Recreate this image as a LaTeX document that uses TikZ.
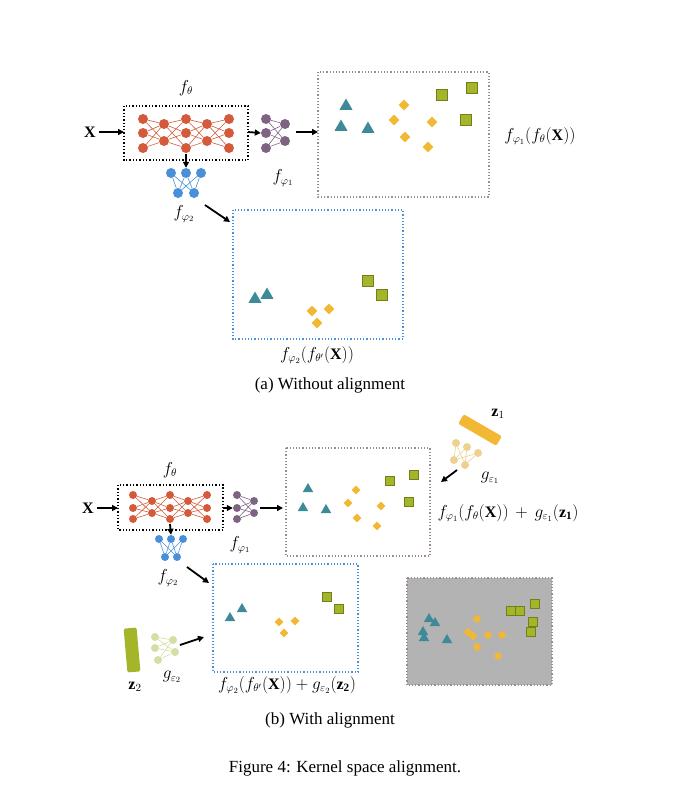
\documentclass[tikz,border=0pt]{standalone}
\usepackage{fontspec}
\setmainfont{Liberation Serif}
\usetikzlibrary{shapes.geometric,backgrounds,arrows.meta}
\definecolor{cRed}{HTML}{D35A3A}
\definecolor{cPur}{HTML}{7E6482}
\definecolor{cBlu}{HTML}{4A90D9}
\definecolor{cTeal}{HTML}{3E8A99}
\definecolor{cYel}{HTML}{F2B833}
\definecolor{cGrn}{HTML}{A5B52A}
\definecolor{cLY}{HTML}{EDD18F}
\definecolor{cLG}{HTML}{D6DDA5}
\definecolor{cBox}{HTML}{9A8A9A}
\newcommand\conn[5]{\begin{scope}[on background layer]\foreach \i in {1,...,#3}{\foreach \j in {1,...,#4}{\draw[#5,line width=0.6pt] (#1\i) -- (#2\j);}}\end{scope}}
\begin{document}
\begin{tikzpicture}[x=1pt,y=-1pt,
  nd/.style={circle,inner sep=0pt,minimum size=#1},
  nd/.default=10pt,
  arr/.style={-{Triangle[length=6pt,width=6pt]},line width=1.8pt},
  tri/.style={regular polygon,regular polygon sides=3,fill=cTeal,inner sep=0pt,minimum size=15pt},
  tris/.style={tri,minimum size=12pt},
  dia/.style={diamond,fill=cYel,inner sep=0pt,minimum size=11pt},
  dias/.style={dia,minimum size=9pt},
  sq/.style={rectangle,fill=cGrn,draw=cGrn!70!black,line width=0.5pt,inner sep=0pt,minimum size=11pt},
  sqs/.style={sq,minimum size=9pt},
  lbl/.style={font=\fontsize{16}{18}\selectfont},
  captxt/.style={font=\fontsize{17}{20}\selectfont}]
\useasboundingbox (0,0) rectangle (690,806);
% ===== (a) =====
\node[lbl] (xa) at (90,132) {$\mathbf{X}$};
\draw[dotted,line width=1.3pt] (124,106) rectangle (248,160);
\coordinate (fa) at (124,132); \coordinate (fb) at (248,132);
\node[lbl] at (186,88) {$f_\theta$};
\foreach \c/\x in {1/143,3/186,5/229}{\foreach \r/\y in {1/119,2/133,3/148}{\node[nd,fill=cRed] (a\c\r) at (\x,\y){};}}
\foreach \c/\x in {2/164,4/207}{\foreach \r/\y in {1/124,2/141}{\node[nd,fill=cRed] (a\c\r) at (\x,\y){};}}
\conn{a1}{a2}{3}{2}{cRed}\conn{a2}{a3}{2}{3}{cRed}\conn{a3}{a4}{3}{2}{cRed}\conn{a4}{a5}{2}{3}{cRed}
\foreach \r/\y in {1/119,2/133,3/148}{\node[nd,fill=cPur] (pa1\r) at (266,\y){};}
\foreach \r/\y in {1/124,2/141}{\node[nd,fill=cPur] (pa2\r) at (285,\y){};}
\conn{pa1}{pa2}{3}{2}{cPur}
\node[lbl] at (283,178) {$f_{\varphi_1}$};
\foreach \r/\x in {1/171,2/186,3/201}{\node[nd,fill=cBlu] (ba1\r) at (\x,173){};}
\foreach \r/\x in {1/178,2/194}{\node[nd,fill=cBlu] (ba2\r) at (\x,193){};}
\conn{ba1}{ba2}{3}{2}{cBlu}
\node[lbl] at (184,214) {$f_{\varphi_2}$};
\draw[arr] (xa.east) -- (fa);
\draw[arr] (fb) -- (pa12.west);
\draw[arr] (a33.center) ++(0,6) -- (ba12.north);
\draw[dotted,line width=1.2pt,cBox] (318,72) rectangle (489,197);
\coordinate (ga) at (318,132);
\draw[arr] (pa21.east|-ga) ++(6,0) -- (ga);
\node[lbl] at (540,136) {$f_{\varphi_1}(f_\theta(\mathbf{X}))$};
\draw[dotted,line width=1.2pt,cBlu] (233,210) rectangle (403,339);
\coordinate (bb) at (230,222);
\draw[arr] (205,205) -- (bb);
\node[lbl] at (317,355) {$f_{\varphi_2}(f_{\theta'}(\mathbf{X}))$};
\foreach \p in {(346,106),(341,127),(368,129)} \node[tri] at \p {};
\foreach \p in {(404,105),(394,120),(432,122),(405,137),(428,147)} \node[dia] at \p {};
\foreach \p in {(442,95),(472,88),(466,120)} \node[sq] at \p {};
\foreach \p in {(255,299),(267,295)} \node[tri] at \p {};
\foreach \p in {(312,311),(329,309),(317,323)} \node[dia] at \p {};
\foreach \p in {(368,281),(382,295)} \node[sq] at \p {};
\node[captxt] at (330,385) {(a) Without alignment};
% ===== (b) =====
\node[lbl] (xb) at (88,508) {$\mathbf{X}$};
\draw[dotted,line width=1.3pt] (118,485) rectangle (223,530);
\coordinate (fc) at (118,508); \coordinate (fd) at (223,508);
\node[lbl] at (170,470) {$f_\theta$};
\foreach \c/\x in {1/133,3/170,5/207}{\foreach \r/\y in {1/495,2/508,3/519}{\node[nd=8pt,fill=cRed] (b\c\r) at (\x,\y){};}}
\foreach \c/\x in {2/152,4/188}{\foreach \r/\y in {1/501,2/513}{\node[nd=8pt,fill=cRed] (b\c\r) at (\x,\y){};}}
\conn{b1}{b2}{3}{2}{cRed}\conn{b2}{b3}{2}{3}{cRed}\conn{b3}{b4}{3}{2}{cRed}\conn{b4}{b5}{2}{3}{cRed}
\foreach \r/\y in {1/495,2/508,3/519}{\node[nd=8pt,fill=cPur] (pb1\r) at (237,\y){};}
\foreach \r/\y in {1/501,2/513}{\node[nd=8pt,fill=cPur] (pb2\r) at (254,\y){};}
\conn{pb1}{pb2}{3}{2}{cPur}
\node[lbl] at (240,545) {$f_{\varphi_1}$};
\foreach \r/\x in {1/159,2/171,3/183}{\node[nd=8pt,fill=cBlu] (bb1\r) at (\x,539){};}
\foreach \r/\x in {1/165,2/177}{\node[nd=8pt,fill=cBlu] (bb2\r) at (\x,557){};}
\conn{bb1}{bb2}{3}{2}{cBlu}
\node[lbl] at (168,578) {$f_{\varphi_2}$};
\draw[arr] (xb.east) -- (fc);
\draw[arr] (fd) -- (pb12.west);
\draw[arr] (b33.center) ++(0,5) -- (bb12.north);
\draw[dotted,line width=1.2pt,cBox] (286,448) rectangle (430,556);
\coordinate (gb) at (283,508);
\draw[arr] (260,508) -- (gb);
\foreach \p in {(308,489),(303,508),(326,510)} \node[tris] at \p {};
\foreach \p in {(356,490),(348,503),(381,506),(357,518),(377,526)} \node[dias] at \p {};
\foreach \p in {(390,481),(414,475),(409,502)} \node[sqs] at \p {};
\node[lbl] at (508,513) {$f_{\varphi_1}(f_\theta(\mathbf{X}))\,+\,g_{\varepsilon_1}(\mathbf{z_1})$};
% z1
\node[rectangle,rounded corners=1.5pt,fill=cYel,minimum width=44pt,minimum height=11pt,rotate=-30] (z1) at (480,430) {};
\node[lbl] at (498,414) {$\mathbf{z}_1$};
\foreach \r/\x/\y in {1/456/443,2/467/447,3/478/453}{\node[nd=8pt,fill=cLY] (ya\r) at (\x,\y){};}
\foreach \r/\x/\y in {1/454/460,2/465/465}{\node[nd=8pt,fill=cLY] (yb\r) at (\x,\y){};}
\conn{ya}{yb}{3}{2}{cLY}
\node[lbl] at (490,478) {$g_{\varepsilon_1}$};
\coordinate (g1) at (441,482);
\draw[arr] (457,470) -- (g1);
% blue box b
\draw[dotted,line width=1.2pt,cBlu] (213,564) rectangle (358,672);
\coordinate (bc) at (209,583);
\draw[arr] (187,567) -- (bc);
\foreach \p in {(230,618),(242,609)} \node[tris] at \p {};
\foreach \p in {(279,622),(295,621),(284,633)} \node[dias] at \p {};
\foreach \p in {(327,597),(339,609)} \node[sqs] at \p {};
\node[lbl] at (287,685) {$f_{\varphi_2}(f_{\theta'}(\mathbf{X}))+g_{\varepsilon_2}(\mathbf{z_2})$};
% z2
\node[rectangle,rounded corners=1.5pt,fill=cGrn,minimum width=13pt,minimum height=44pt,rotate=5] (z2) at (132,650) {};
\node[lbl] at (135,687) {$\mathbf{z}_2$};
\foreach \r/\x/\y in {1/155/637,2/155/648,3/158/660}{\node[nd=8pt,fill=cLG] (ga\r) at (\x,\y){};}
\foreach \r/\x/\y in {1/173/640,2/175/652}{\node[nd=8pt,fill=cLG] (gb\r) at (\x,\y){};}
\conn{ga}{gb}{3}{2}{cLG}
\node[lbl] at (172,677) {$g_{\varepsilon_2}$};
\coordinate (g2) at (204,637);
\draw[arr] (180,645) -- (g2);
% gray box
\draw[dotted,line width=1.2pt,cBox,fill={rgb,255:red,179;green,179;blue,179}] (407,578) rectangle (552,685);
\foreach \p in {(429,619),(435,623),(423,632),(424,638),(447,640)} \node[tris] at \p {};
\foreach \p in {(477,619),(468,632),(473,636),(488,635),(502,635),(477,647),(498,656)} \node[dias] at \p {};
\foreach \p in {(511,611),(520,611),(535,604),(533,622),(531,632)} \node[sqs] at \p {};
\node[captxt] at (330,720) {(b) With alignment};
\node[captxt] at (345,768) {Figure 4: Kernel space alignment.};
\end{tikzpicture}
\end{document}
